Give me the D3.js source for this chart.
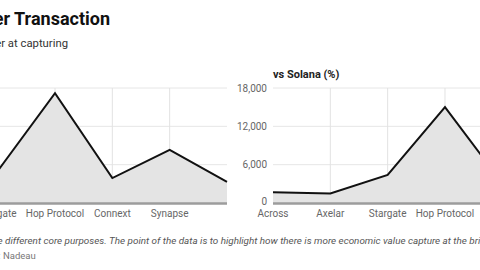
<!DOCTYPE html>
<html>
<head>
<meta charset="utf-8">
<script src="https://cdn.jsdelivr.net/npm/d3@7"></script>
<style>
  body { margin: 0; background: #fff; overflow: hidden; }
  svg { display: block; font-family: Roboto, "Noto Sans", sans-serif; }
</style>
</head>
<body>
<div id="chart"></div>
<script>
// categories shared by both small multiples
const bridges = ["Across", "Axelar", "Stargate", "Hop Protocol", "Connext", "Synapse", "Celer"];
// left panel (only part of it is visible in the frame)
const leftValues = [2400, 2000, 5000, 17200, 3900, 8300, 3300];
// right panel: vs Solana (%)
const rightValues = [1700, 1500, 4400, 15000, 3100, 2600, 2200];
const yTicks = [0, 6000, 12000, 18000];

const titleText = "Bridge Revenue per Transaction";
const subtitleText = "Which bridges are better at capturing";
const rightTitle = "vs Solana (%)";
const noteText = "These bridges serve different core purposes. The point of the data is to highlight how there is more economic value capture at the bridge layer";
const creditText = "Chart: Nadeau";

const width = 480, height = 270;
const svg = d3.select("#chart").append("svg")
  .attr("width", width)
  .attr("height", height);

const y = d3.scaleLinear().domain([0, 18000]).range([203, 88]);

function panel(range, values, hideLast) {
  const x = d3.scalePoint().domain(bridges).range(range);
  const g = svg.append("g");

  // horizontal grid
  g.selectAll(".hgrid")
    .data(yTicks.slice(1))
    .enter().append("line")
      .attr("x1", range[0]).attr("x2", range[1])
      .attr("y1", d => y(d)).attr("y2", d => y(d))
      .attr("stroke", "#e6e6e6").attr("stroke-width", 1);

  // vertical grid at inner categories
  g.selectAll(".vgrid")
    .data(bridges.slice(1, -1))
    .enter().append("line")
      .attr("x1", d => x(d)).attr("x2", d => x(d))
      .attr("y1", y(18000)).attr("y2", y(0))
      .attr("stroke", "#e2e2e2").attr("stroke-width", 1);

  const pts = bridges.map((b, i) => ({ k: b, v: values[i] }));

  g.append("path")
    .datum(pts)
    .attr("fill", "#e4e4e4")
    .attr("d", d3.area().x(d => x(d.k)).y0(y(0)).y1(d => y(d.v)));

  g.append("line")
    .attr("x1", range[0]).attr("x2", range[1])
    .attr("y1", y(0) + 0.5).attr("y2", y(0) + 0.5)
    .attr("stroke", "#9c9c9c").attr("stroke-width", 2.5);

  g.append("path")
    .datum(pts)
    .attr("fill", "none")
    .attr("stroke", "#111")
    .attr("stroke-width", 2)
    .attr("stroke-linejoin", "miter")
    .attr("d", d3.line().x(d => x(d.k)).y(d => y(d.v)));

  // x labels
  g.selectAll(".xl")
    .data(hideLast ? bridges.slice(0, -1) : bridges)
    .enter().append("text")
      .attr("x", d => x(d))
      .attr("y", 217)
      .attr("text-anchor", "middle")
      .attr("font-size", 10)
      .attr("fill", "#666")
      .text(d => d);

  g.selectAll(".yl")
    .data(yTicks)
    .enter().append("text")
      .attr("x", range[0] - 6)
      .attr("y", d => y(d) - (d === 0 ? 2 : 0))
      .attr("dy", "0.35em")
      .attr("text-anchor", "end")
      .attr("font-size", 10)
      .attr("fill", "#666")
      .text(d => d3.format(",")(d));
  return x;
}

panel([-117, 227], leftValues, true);
panel([273, 273 + 6 * 57.33], rightValues, true);

// header
svg.append("text")
  .attr("x", 110).attr("y", 25)
  .attr("text-anchor", "end")
  .attr("font-size", 18).attr("font-weight", 700)
  .attr("fill", "#111")
  .text(titleText);

svg.append("text")
  .attr("x", 68).attr("y", 47)
  .attr("text-anchor", "end")
  .attr("font-size", 11.3)
  .attr("fill", "#333")
  .text(subtitleText);

svg.append("text")
  .attr("x", 273).attr("y", 78)
  .attr("font-size", 11).attr("font-weight", 700)
  .attr("fill", "#222")
  .text(rightTitle);

// footer: shift so that the visible part lands where the reference shows it
function placeFrom(sel, word, targetX) {
  const node = sel.node();
  const idx = node.textContent.indexOf(word);
  const pos = node.getStartPositionOfChar(idx).x;
  sel.attr("x", targetX - pos);
}

const note = svg.append("text")
  .attr("x", 0).attr("y", 244)
  .attr("font-size", 9.9).attr("font-style", "italic")
  .attr("fill", "#555")
  .text(noteText);
placeFrom(note, "different", 5);

const credit = svg.append("text")
  .attr("x", 0).attr("y", 259)
  .attr("font-size", 9.5)
  .attr("fill", "#777")
  .text(creditText);
placeFrom(credit, "Nadeau", 3);
</script>
</body>
</html>
